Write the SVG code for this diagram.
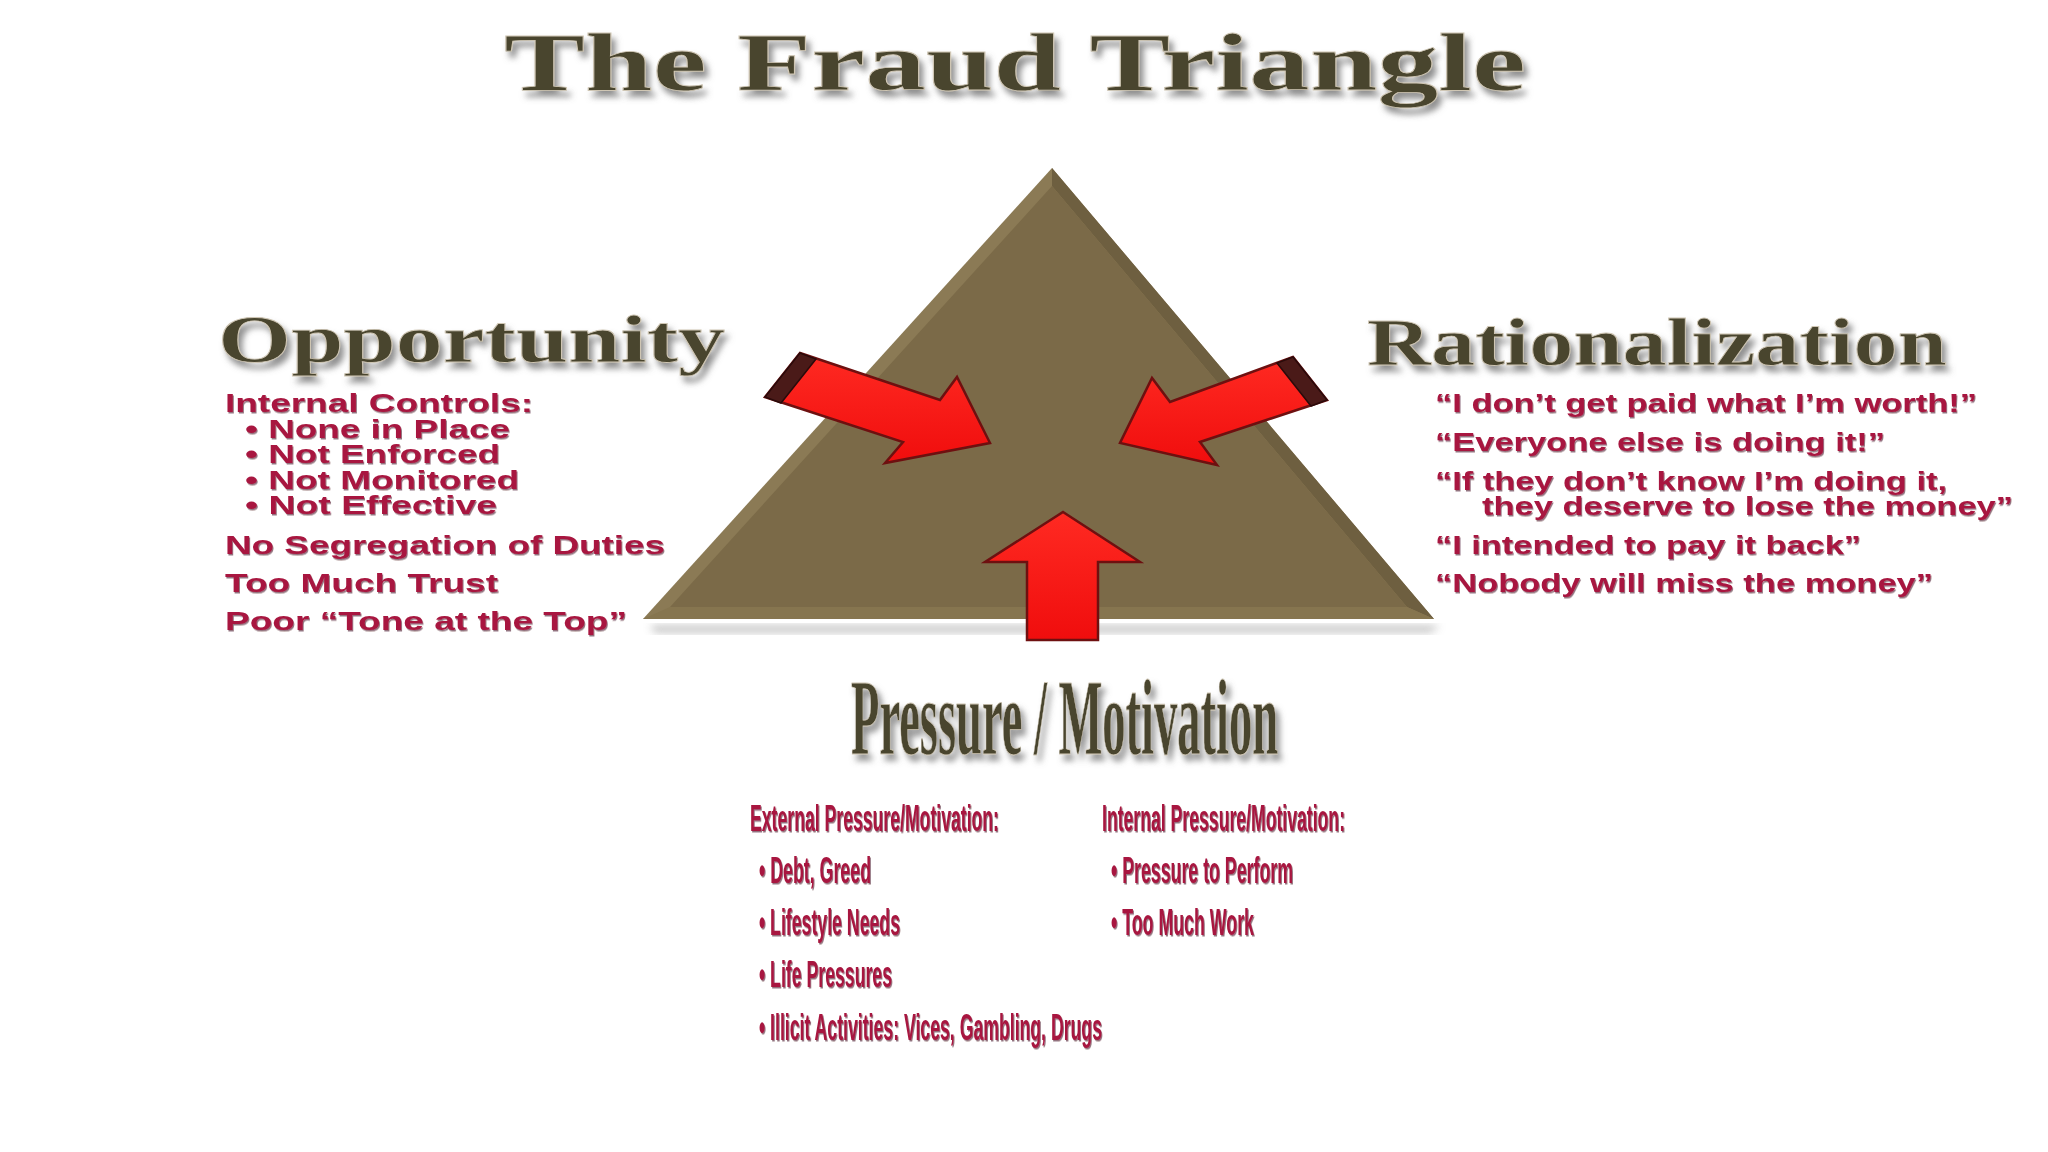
<svg xmlns="http://www.w3.org/2000/svg" width="2048" height="1152" viewBox="0 0 2048 1152">
<defs>
<filter id="hshadow" x="-10%" y="-30%" width="120%" height="160%">
<feDropShadow dx="4" dy="6" stdDeviation="3" flood-color="#6b6b6b" flood-opacity="0.75"/>
</filter>
<filter id="tshadow" x="-5%" y="-30%" width="110%" height="160%">
<feDropShadow dx="1" dy="1.5" stdDeviation="0.7" flood-color="#3a0010" flood-opacity="0.55"/>
</filter>
<filter id="blur4" x="-10%" y="-50%" width="120%" height="200%">
<feGaussianBlur stdDeviation="4"/>
</filter>
<linearGradient id="redg" x1="0" y1="0" x2="0" y2="1">
<stop offset="0" stop-color="#ff2a22"/>
<stop offset="1" stop-color="#f00d0d"/>
</linearGradient>
</defs>
<style>
.head{font-family:"Liberation Serif","Times New Roman",serif;font-weight:bold;fill:#48442e;stroke:#cfc6b4;stroke-width:0.8;filter:url(#hshadow)}
.body{font-family:"Liberation Sans",Arial,sans-serif;font-weight:bold;font-size:25px;fill:#a8173f;filter:url(#tshadow)}
.cond{font-family:"Liberation Sans",Arial,sans-serif;font-weight:bold;font-size:36px;fill:#a8173f;filter:url(#tshadow)}
.arrow{fill:url(#redg);stroke:#6e1010;stroke-width:2.5;stroke-linejoin:miter}
.cap{fill:#4a1a18;stroke:#2a0a0a;stroke-width:1.5}
</style>
<rect width="2048" height="1152" fill="#ffffff"/>

<g id="title">
<text class="head" x="504" y="90" font-size="82" textLength="1022" lengthAdjust="spacingAndGlyphs">The Fraud Triangle</text>
</g>

<g id="triangle">
<polygon points="650,626 1440,626 1430,632 655,632" fill="#9a9a9a" filter="url(#blur4)" opacity="0.7"/>
<polygon points="1052,168 1434,619 643,619" fill="#8b7a55"/>
<polygon points="1052,168 1434,619 1407,607 1052,186" fill="#6e5f40"/>
<polygon points="643,619 1434,619 1407,607 670,607" fill="#86754f"/>
<polygon points="1052,186 1407,607 670,607" fill="#7b6a48"/>
</g>

<g id="opportunity">
<text class="head" x="218" y="362" font-size="68" textLength="507" lengthAdjust="spacingAndGlyphs">Opportunity</text>
<text class="body" x="225" y="412" textLength="308" lengthAdjust="spacingAndGlyphs">Internal Controls:</text>
<text class="body" x="245" y="438" textLength="265" lengthAdjust="spacingAndGlyphs">• None in Place</text>
<text class="body" x="245" y="463" textLength="255" lengthAdjust="spacingAndGlyphs">• Not Enforced</text>
<text class="body" x="245" y="489" textLength="274" lengthAdjust="spacingAndGlyphs">• Not Monitored</text>
<text class="body" x="245" y="514" textLength="252" lengthAdjust="spacingAndGlyphs">• Not Effective</text>
<text class="body" x="225" y="554" textLength="440" lengthAdjust="spacingAndGlyphs">No Segregation of Duties</text>
<text class="body" x="225" y="592" textLength="273" lengthAdjust="spacingAndGlyphs">Too Much Trust</text>
<text class="body" x="225" y="630" textLength="402" lengthAdjust="spacingAndGlyphs">Poor “Tone at the Top”</text>
</g>

<g id="rationalization">
<text class="head" x="1367" y="365" font-size="68" textLength="580" lengthAdjust="spacingAndGlyphs">Rationalization</text>
<text class="body" x="1435" y="412" textLength="542" lengthAdjust="spacingAndGlyphs">“I don’t get paid what I’m worth!”</text>
<text class="body" x="1435" y="451" textLength="450" lengthAdjust="spacingAndGlyphs">“Everyone else is doing it!”</text>
<text class="body" x="1435" y="490" textLength="512" lengthAdjust="spacingAndGlyphs">“If they don’t know I’m doing it,</text>
<text class="body" x="1482" y="515" textLength="531" lengthAdjust="spacingAndGlyphs">they deserve to lose the money”</text>
<text class="body" x="1435" y="554" textLength="426" lengthAdjust="spacingAndGlyphs">“I intended to pay it back”</text>
<text class="body" x="1435" y="592" textLength="498" lengthAdjust="spacingAndGlyphs">“Nobody will miss the money”</text>
</g>

<g id="pressure">
<text class="head" x="851" y="754" font-size="108" textLength="427" lengthAdjust="spacingAndGlyphs">Pressure / Motivation</text>
<text class="cond" x="750" y="831" textLength="249" lengthAdjust="spacingAndGlyphs">External Pressure/Motivation:</text>
<text class="cond" x="759" y="883" textLength="112" lengthAdjust="spacingAndGlyphs">• Debt, Greed</text>
<text class="cond" x="759" y="935" textLength="141" lengthAdjust="spacingAndGlyphs">• Lifestyle Needs</text>
<text class="cond" x="759" y="987" textLength="133" lengthAdjust="spacingAndGlyphs">• Life Pressures</text>
<text class="cond" x="759" y="1040" textLength="343" lengthAdjust="spacingAndGlyphs">• Illicit Activities: Vices, Gambling, Drugs</text>
<text class="cond" x="1102" y="831" textLength="243" lengthAdjust="spacingAndGlyphs">Internal Pressure/Motivation:</text>
<text class="cond" x="1111" y="883" textLength="182" lengthAdjust="spacingAndGlyphs">• Pressure to Perform</text>
<text class="cond" x="1111" y="935" textLength="143" lengthAdjust="spacingAndGlyphs">• Too Much Work</text>
</g>

<g id="connectors">
<g id="arrow-opportunity">
<polygon class="arrow" points="800,353 940,400 957,377 990,443 885,463 903,442 765,397"/>
<polygon class="cap" points="800,353 816,359 781,403 765,397"/>
</g>
<g id="arrow-rationalization">
<polygon class="arrow" points="1293,357 1170,402 1152,378 1120,443 1217,465 1200,442 1327,400"/>
<polygon class="cap" points="1293,357 1277,363 1311,406 1327,400"/>
</g>
<g id="arrow-pressure">
<polygon class="arrow" points="1063,512 1140,562 1098,562 1098,640 1027,640 1027,562 985,562"/>
</g>
</g>
</svg>
